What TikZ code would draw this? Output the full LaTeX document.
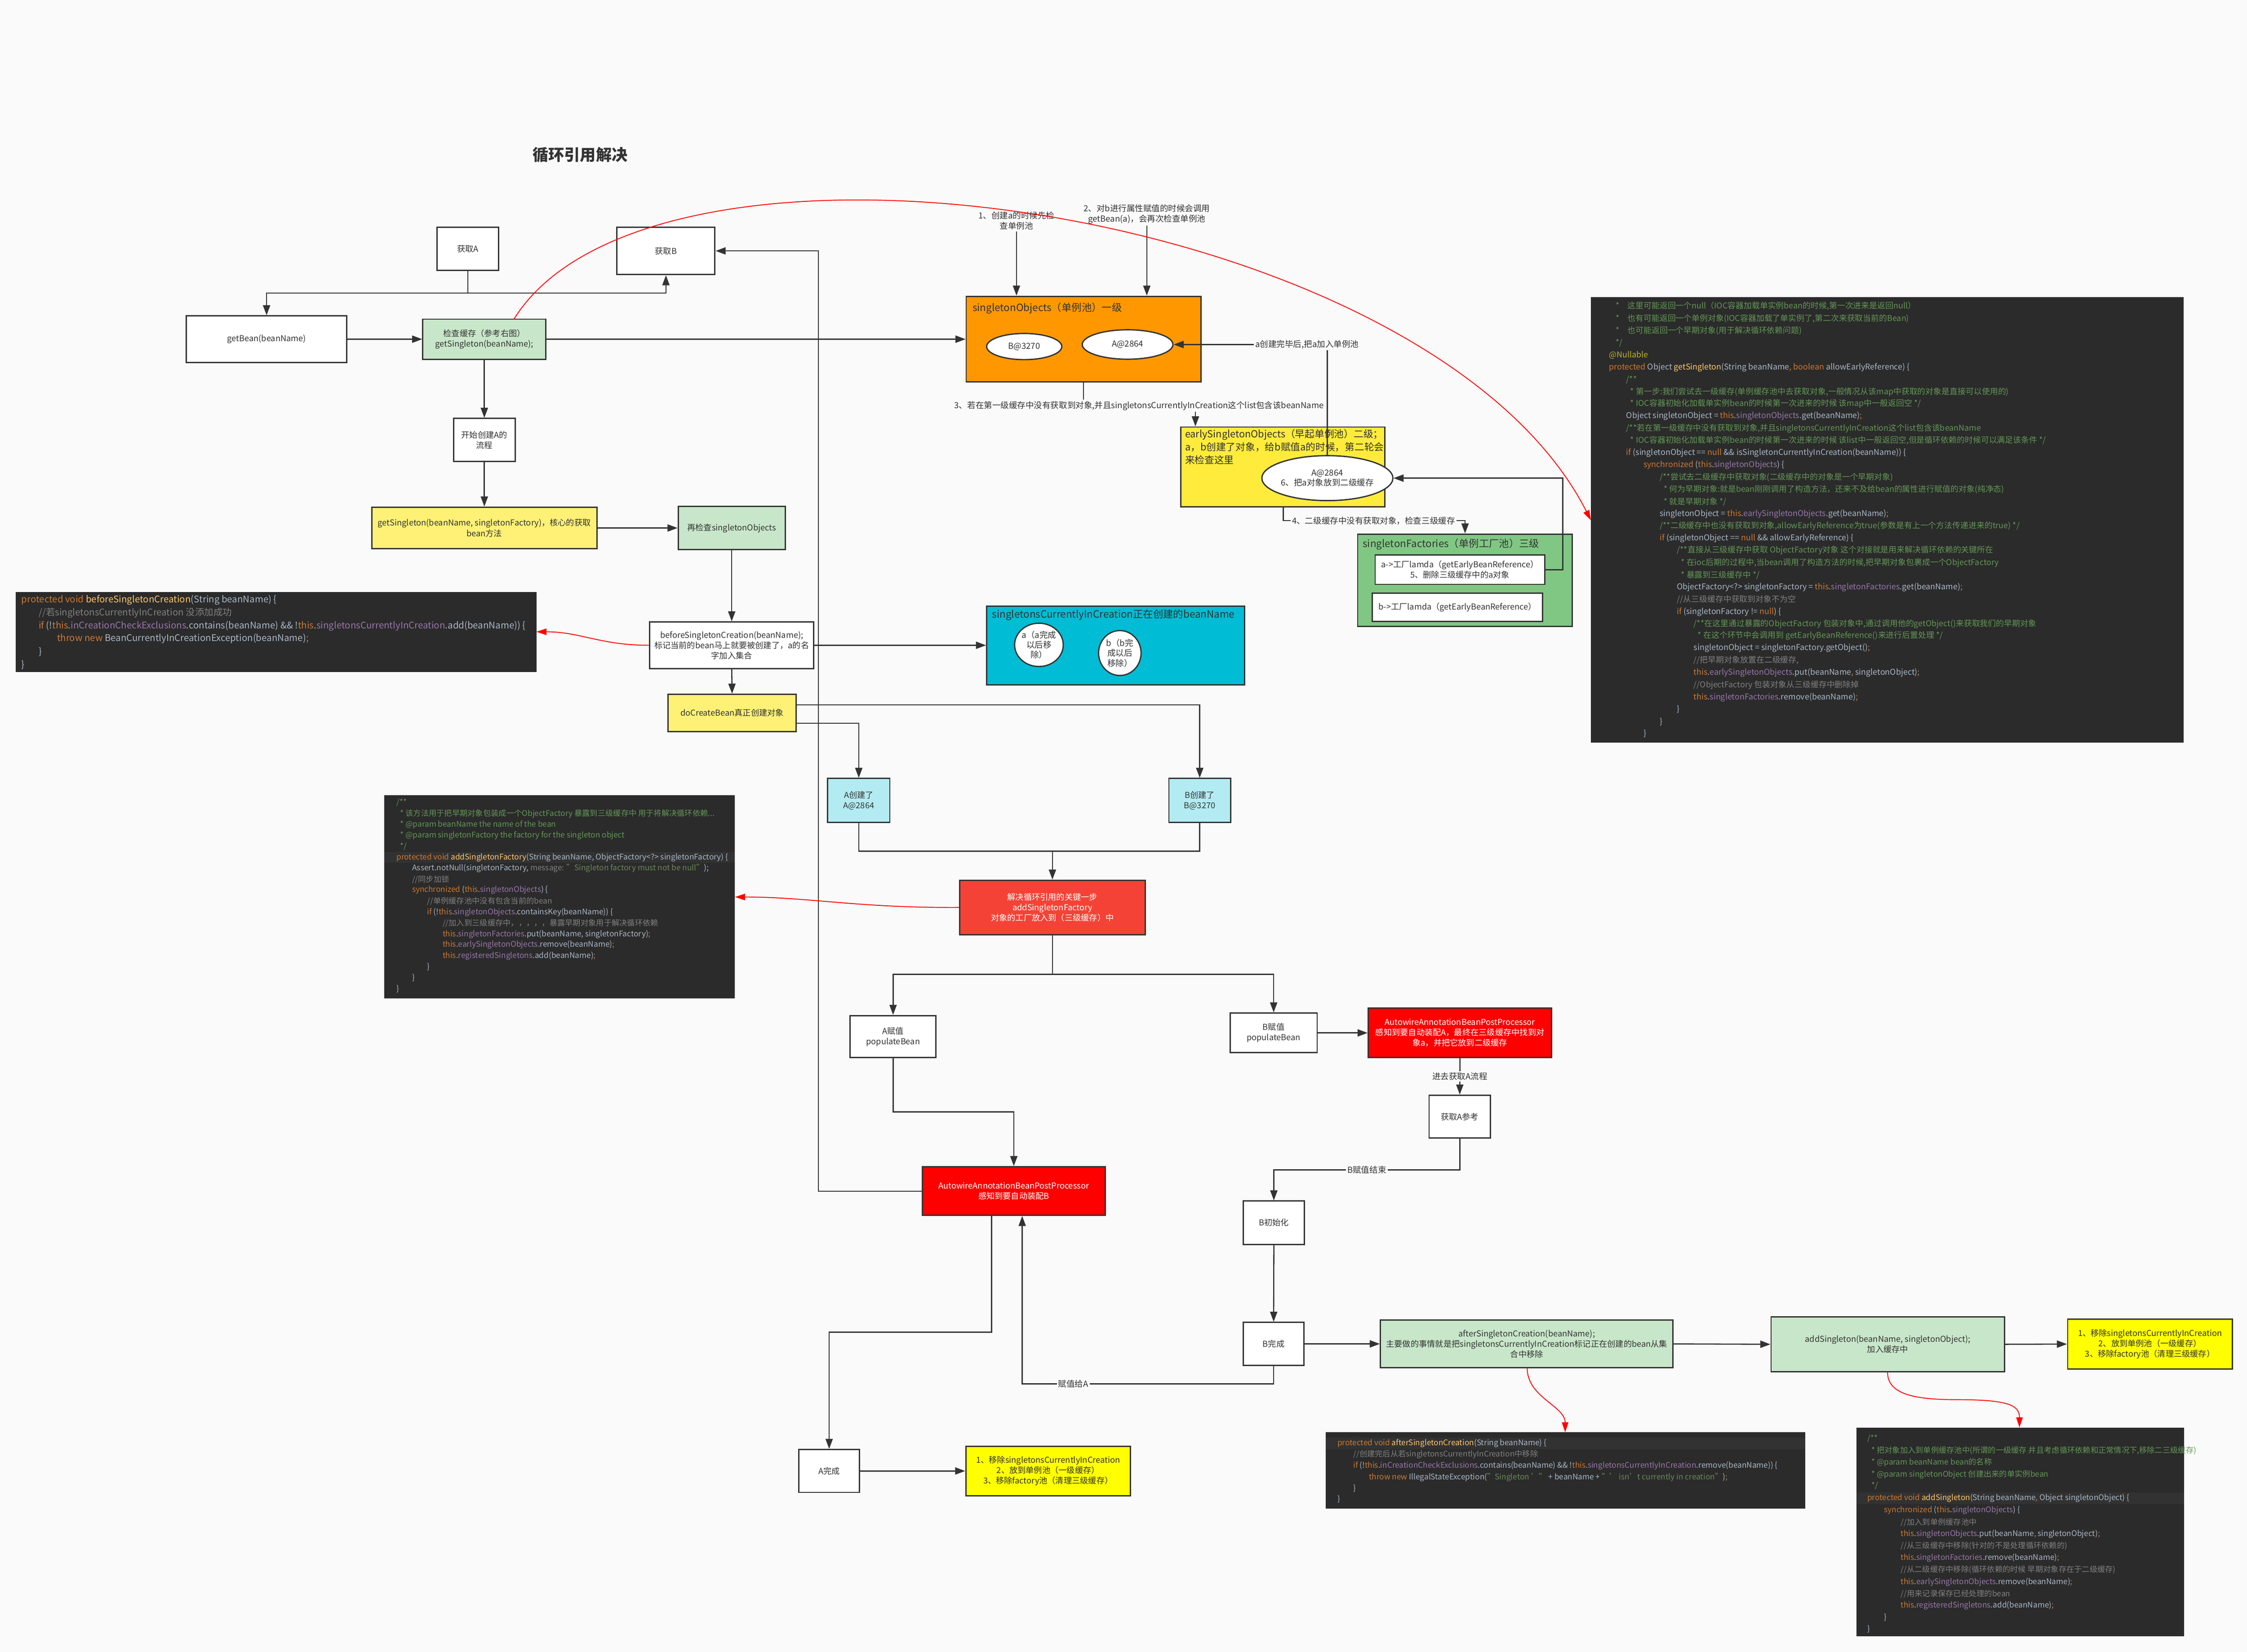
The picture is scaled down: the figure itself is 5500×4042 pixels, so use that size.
\documentclass[tikz,border=0pt]{standalone}
\usepackage{fontspec}
\setmainfont{Noto Sans CJK SC}
\usetikzlibrary{arrows.meta,shapes.geometric}
\definecolor{bg}{HTML}{FAFAFA}
\definecolor{ln}{HTML}{333333}
\definecolor{gbox}{HTML}{C8E6C9}
\definecolor{ybox}{HTML}{FFF176}
\definecolor{ybright}{HTML}{FFEB3B}
\definecolor{yy}{HTML}{FFFF00}
\definecolor{orng}{HTML}{FF9800}
\definecolor{cyn}{HTML}{00BCD4}
\definecolor{lcyn}{HTML}{B2EBF2}
\definecolor{gfac}{HTML}{81C784}
\definecolor{red1}{HTML}{F44336}
\definecolor{red2}{HTML}{FF0000}
\definecolor{codebg}{HTML}{2B2B2B}
\definecolor{codehl}{HTML}{323232}
\definecolor{codefg}{HTML}{A9B7C6}
\definecolor{ckw}{HTML}{CC7832}
\definecolor{cfd}{HTML}{9876AA}
\definecolor{ccm}{HTML}{808080}
\definecolor{cdc}{HTML}{629755}
\definecolor{cfn}{HTML}{FFC66D}
\definecolor{cst}{HTML}{6A8759}
\definecolor{cann}{HTML}{BBB529}
\newcommand\kw[1]{\textcolor{ckw}{#1}}
\newcommand\fd[1]{\textcolor{cfd}{#1}}
\newcommand\cm[1]{\textcolor{ccm}{#1}}
\newcommand\dc[1]{\textcolor{cdc}{#1}}
\newcommand\fn[1]{\textcolor{cfn}{#1}}
\newcommand\st[1]{\textcolor{cst}{#1}}
\newcommand\bx[7]{\node[#6, minimum width={(#4-#2)*0.01cm}, minimum height={(#5-#3)*0.01cm}] (#1) at ({(#2+#4)/2},{(#3+#5)/2}) {#7};}
\newcommand\el[6]{\node[ellipse, draw=ln, line width=0.9pt, fill=white, inner sep=0, align=center, font=\fontsize{5.8}{7}\selectfont, text=ln, minimum width={2*#4*0.01cm}, minimum height={2*#5*0.01cm}] (#1) at (#2,#3) {#6};}
\newcommand\cl[3]{\node[codetxt] at (#1,#2) {#3};}
\tikzset{
 box/.style={draw=ln, line width=0.9pt, align=center, inner sep=0, text=ln, font=\fontsize{5.7}{7.2}\selectfont},
 wbox/.style={box, fill=white},
 gb/.style={box, fill=gbox},
 yb/.style={box, fill=ybox},
 yyb/.style={box, fill=yy},
 cb/.style={box, fill=lcyn},
 rb1/.style={box, fill=red1, text=white},
 rb2/.style={box, fill=red2, text=white},
 arr/.style={draw=ln, line width=0.8pt, -{Triangle[length=7pt,width=5pt]}},
 lin/.style={draw=ln, line width=0.8pt},
 rarr/.style={draw=red2, line width=0.6pt, -{Triangle[length=7pt,width=4.5pt]}},
 lbl/.style={fill=bg, inner sep=1pt, text=ln, align=center, font=\fontsize{5.8}{7.2}\selectfont},
 hdr/.style={anchor=north west, inner sep=0, text=ln, align=left, font=\fontsize{7}{7.8}\selectfont},
 codebox/.style={fill=codebg, draw=none},
 codetxt/.style={anchor=west, inner sep=0, text=codefg, font=\fontsize{5.4}{6}\selectfont},
}
\begin{document}
\begin{tikzpicture}[x=0.01cm,y=-0.01cm]
\fill[bg] (0,0) rectangle (5500,4042);
\useasboundingbox (0,0) rectangle (5500,4042);

\node[text=ln, font=\fontsize{11}{13}\selectfont\bfseries] (title) at (1420,379) {循环引用解决};

% ---------- code blocks ----------
\fill[codebox] (38,1449) rectangle (1313,1644);
\begin{scope}[codetxt/.append style={font=\fontsize{6.4}{7}\selectfont}]
\cl{52}{1468}{\kw{protected void} \fn{beforeSingletonCreation}(String beanName) \{}
\cl{94}{1500}{\cm{//若singletonsCurrentlyInCreation 没添加成功}}
\cl{94}{1532}{\kw{if} (!\kw{this}.\fd{inCreationCheckExclusions}.contains(beanName) \&\& !\kw{this}.\fd{singletonsCurrentlyInCreation}.add(beanName)) \{}
\cl{139}{1563}{\kw{throw new} BeanCurrentlyInCreationException(beanName)\kw{;}}
\cl{94}{1595}{\}}
\cl{52}{1627}{\}}
\end{scope}

\fill[codebox] (941,1946) rectangle (1799,2443);
\fill[codehl] (941,2085) rectangle (1799,2111);
\begin{scope}[codetxt/.append style={font=\fontsize{5.4}{6}\selectfont}]
\cl{970}{1964}{\dc{/**}}
\cl{979}{1991}{\dc{* 该方法用于把早期对象包装成一个ObjectFactory 暴露到三级缓存中 用于将解决循环依赖...}}
\cl{979}{2018}{\dc{* @param beanName the name of the bean}}
\cl{979}{2044}{\dc{* @param singletonFactory the factory for the singleton object}}
\cl{979}{2071}{\dc{*/}}
\cl{970}{2098}{\kw{protected void} \fn{addSingletonFactory}(String beanName, ObjectFactory<?> singletonFactory) \{}
\cl{1008}{2125}{Assert.notNull(singletonFactory, \cm{message:} \st{"Singleton factory must not be null"});}
\cl{1008}{2152}{\cm{//同步加锁}}
\cl{1008}{2178}{\kw{synchronized} (\kw{this}.\fd{singletonObjects}) \{}
\cl{1045}{2205}{\cm{//单例缓存池中没有包含当前的bean}}
\cl{1045}{2232}{\kw{if} (!\kw{this}.\fd{singletonObjects}.containsKey(beanName)) \{}
\cl{1083}{2259}{\cm{//加入到三级缓存中，，，，，暴露早期对象用于解决循环依赖}}
\cl{1083}{2286}{\kw{this}.\fd{singletonFactories}.put(beanName, singletonFactory)\kw{;}}
\cl{1083}{2312}{\kw{this}.\fd{earlySingletonObjects}.remove(beanName)\kw{;}}
\cl{1083}{2339}{\kw{this}.\fd{registeredSingletons}.add(beanName)\kw{;}}
\cl{1045}{2366}{\}}
\cl{1008}{2393}{\}}
\cl{970}{2420}{\}}
\end{scope}

\fill[codebox] (3894,727) rectangle (5345,1817);
\begin{scope}[codetxt/.append style={font=\fontsize{5.6}{6}\selectfont}]
\cl{3954}{749}{\dc{*\quad 这里可能返回一个null（IOC容器加载单实例bean的时候,第一次进来是返回null）}}
\cl{3954}{779}{\dc{*\quad 也有可能返回一个单例对象(IOC容器加载了单实例了,第二次来获取当前的Bean)}}
\cl{3954}{809}{\dc{*\quad 也可能返回一个早期对象(用于解决循环依赖问题)}}
\cl{3954}{839}{\dc{*/}}
\cl{3938}{869}{\textcolor{cann}{@Nullable}}
\cl{3938}{899}{\kw{protected} Object \fn{getSingleton}(String beanName\kw{,} \kw{boolean} allowEarlyReference) \{}
\cl{3980}{929}{\dc{/**}}
\cl{3990}{959}{\dc{* 第一步:我们尝试去一级缓存(单例缓存池中去获取对象,一般情况从该map中获取的对象是直接可以使用的)}}
\cl{3990}{988}{\dc{* IOC容器初始化加载单实例bean的时候第一次进来的时候 该map中一般返回空 */}}
\cl{3980}{1018}{Object singletonObject = \kw{this}.\fd{singletonObjects}.get(beanName)\kw{;}}
\cl{3980}{1048}{\dc{/**若在第一级缓存中没有获取到对象,并且singletonsCurrentlyInCreation这个list包含该beanName}}
\cl{3990}{1078}{\dc{* IOC容器初始化加载单实例bean的时候第一次进来的时候 该list中一般返回空,但是循环依赖的时候可以满足该条件 */}}
\cl{3980}{1108}{\kw{if} (singletonObject == \kw{null} \&\& isSingletonCurrentlyInCreation(beanName)) \{}
\cl{4022}{1138}{\kw{synchronized} (\kw{this}.\fd{singletonObjects}) \{}
\cl{4062}{1168}{\dc{/**尝试去二级缓存中获取对象(二级缓存中的对象是一个早期对象)}}
\cl{4072}{1198}{\dc{* 何为早期对象:就是bean刚刚调用了构造方法，还来不及给bean的属性进行赋值的对象(纯净态)}}
\cl{4072}{1228}{\dc{* 就是早期对象 */}}
\cl{4062}{1258}{singletonObject = \kw{this}.\fd{earlySingletonObjects}.get(beanName)\kw{;}}
\cl{4062}{1287}{\dc{/**二级缓存中也没有获取到对象,allowEarlyReference为true(参数是有上一个方法传递进来的true) */}}
\cl{4062}{1317}{\kw{if} (singletonObject == \kw{null} \&\& allowEarlyReference) \{}
\cl{4104}{1347}{\dc{/**直接从三级缓存中获取 ObjectFactory对象 这个对接就是用来解决循环依赖的关键所在}}
\cl{4114}{1377}{\dc{* 在ioc后期的过程中,当bean调用了构造方法的时候,把早期对象包裹成一个ObjectFactory}}
\cl{4114}{1407}{\dc{* 暴露到三级缓存中 */}}
\cl{4104}{1437}{ObjectFactory<?> singletonFactory = \kw{this}.\fd{singletonFactories}.get(beanName)\kw{;}}
\cl{4104}{1467}{\cm{//从三级缓存中获取到对象不为空}}
\cl{4104}{1497}{\kw{if} (singletonFactory != \kw{null}) \{}
\cl{4145}{1527}{\dc{/**在这里通过暴露的ObjectFactory 包装对象中,通过调用他的getObject()来获取我们的早期对象}}
\cl{4155}{1556}{\dc{* 在这个环节中会调用到 getEarlyBeanReference()来进行后置处理 */}}
\cl{4145}{1586}{singletonObject = singletonFactory.getObject()\kw{;}}
\cl{4145}{1616}{\cm{//把早期对象放置在二级缓存,}}
\cl{4145}{1646}{\kw{this}.\fd{earlySingletonObjects}.put(beanName\kw{,} singletonObject)\kw{;}}
\cl{4145}{1676}{\cm{//ObjectFactory 包装对象从三级缓存中删除掉}}
\cl{4145}{1706}{\kw{this}.\fd{singletonFactories}.remove(beanName)\kw{;}}
\cl{4104}{1736}{\}}
\cl{4062}{1766}{\}}
\cl{4022}{1795}{\}}
\end{scope}

\fill[codebox] (3245,3505) rectangle (4419,3692);
\fill[codehl] (3245,3518) rectangle (4419,3546);
\begin{scope}[codetxt/.append style={font=\fontsize{5.4}{6}\selectfont}]
\cl{3273}{3532}{\kw{protected void} \fn{afterSingletonCreation}(String beanName) \{}
\cl{3312}{3559}{\cm{//创建完后从若singletonsCurrentlyInCreation中移除}}
\cl{3312}{3587}{\kw{if} (!\kw{this}.\fd{inCreationCheckExclusions}.contains(beanName) \&\& !\kw{this}.\fd{singletonsCurrentlyInCreation}.remove(beanName)) \{}
\cl{3350}{3615}{\kw{throw new} IllegalStateException(\st{"Singleton '"} + beanName + \st{"' isn't currently in creation"})\kw{;}}
\cl{3312}{3642}{\}}
\cl{3273}{3669}{\}}
\end{scope}

\fill[codebox] (4544,3493) rectangle (5346,4004);
\fill[codehl] (4544,3652) rectangle (5346,3680);
\begin{scope}[codetxt/.append style={font=\fontsize{5.4}{6}\selectfont}]
\cl{4570}{3520}{\dc{/**}}
\cl{4580}{3549}{\dc{* 把对象加入到单例缓存池中(所谓的一级缓存 并且考虑循环依赖和正常情况下,移除二三级缓存)}}
\cl{4580}{3579}{\dc{* @param beanName bean的名称}}
\cl{4580}{3608}{\dc{* @param singletonObject 创建出来的单实例bean}}
\cl{4580}{3636}{\dc{*/}}
\cl{4570}{3666}{\kw{protected void} \fn{addSingleton}(String beanName\kw{,} Object singletonObject) \{}
\cl{4611}{3695}{\kw{synchronized} (\kw{this}.\fd{singletonObjects}) \{}
\cl{4652}{3725}{\cm{//加入到单例缓存池中}}
\cl{4652}{3754}{\kw{this}.\fd{singletonObjects}.put(beanName\kw{,} singletonObject)\kw{;}}
\cl{4652}{3783}{\cm{//从三级缓存中移除(针对的不是处理循环依赖的)}}
\cl{4652}{3812}{\kw{this}.\fd{singletonFactories}.remove(beanName)\kw{;}}
\cl{4652}{3841}{\cm{//从二级缓存中移除(循环依赖的时候 早期对象存在于二级缓存)}}
\cl{4652}{3871}{\kw{this}.\fd{earlySingletonObjects}.remove(beanName)\kw{;}}
\cl{4652}{3900}{\cm{//用来记录保存已经处理的bean}}
\cl{4652}{3929}{\kw{this}.\fd{registeredSingletons}.add(beanName)\kw{;}}
\cl{4611}{3958}{\}}
\cl{4570}{3987}{\}}
\end{scope}

% ---------- big container boxes ----------
\bx{so}{2365}{725}{2940}{934}{box, fill=orng}{}
\node[hdr] (soT) at (2380,740) {singletonObjects（单例池）一级};
\el{ellB}{2507}{848}{92}{32}{B@3270}
\el{ellA}{2760}{843}{111}{36}{A@2864}

\bx{early}{2890}{1045}{3390}{1240}{box, fill=ybright}{}
\node[hdr, font=\fontsize{6.8}{9}\selectfont] (earlyT) at (2900,1050) {earlySingletonObjects（早起单例池）二级；\\a，b创建了对象，给b赋值a的时候，第二轮会\\来检查这里};
\el{ellE}{3249}{1170}{128}{55}{A@2864\\6、把a对象放到二级缓存}

\bx{sf}{3323}{1307}{3848}{1533}{box, fill=gfac}{}
\node[hdr] (sfT) at (3335,1318) {singletonFactories（单例工厂池）三级};
\bx{sfa}{3366}{1358}{3781}{1430}{wbox}{a->工厂lamda（getEarlyBeanReference）\\5、删除三级缓存中的a对象}
\bx{sfb}{3359}{1451}{3776}{1521}{wbox}{b->工厂lamda（getEarlyBeanReference）}

\bx{sci}{2415}{1483}{3046}{1676}{box, fill=cyn}{}
\node[hdr] (sciT) at (2428,1490) {singletonsCurrentlyInCreation正在创建的beanName};
\el{ca}{2543}{1578}{57}{53}{a（a完成\\以后移\\除）}
\el{cb}{2741}{1598}{52}{55}{b（b完\\成以后\\移除）}

% ---------- flow boxes ----------
\bx{hqA}{1070}{556}{1220}{662}{wbox}{获取A}
\bx{hqB}{1510}{556}{1750}{672}{wbox}{获取B}
\bx{getBean}{456}{773}{849}{887}{wbox}{getBean(beanName)}
\bx{check}{1035}{781}{1336}{879}{gb}{检查缓存（参考右图）\\getSingleton(beanName);}
\bx{startA}{1110}{1024}{1261}{1129}{wbox}{开始创建A的\\流程}
\bx{gs}{910}{1241}{1461}{1343}{yb}{getSingleton(beanName, singletonFactory)，核心的获取\\bean方法}
\bx{recheck}{1660}{1239}{1922}{1345}{gb}{再检查singletonObjects}
\bx{before}{1590}{1522}{1992}{1636}{wbox}{beforeSingletonCreation(beanName);\\标记当前的bean马上就要被创建了，a的名\\字加入集合}
\bx{doCreate}{1635}{1699}{1949}{1790}{yb}{doCreateBean真正创建对象}
\bx{AcA}{2026}{1905}{2178}{2012}{cb}{A创建了\\A@2864}
\bx{AcB}{2861}{1905}{3012}{2012}{cb}{B创建了\\B@3270}
\bx{red1}{2349}{2154}{2803}{2287}{rb1}{解决循环引用的关键一步\\addSingletonFactory\\对象的工厂放入到（三级缓存）中}
\bx{Afz}{2081}{2485}{2291}{2588}{wbox}{A赋值\\populateBean}
\bx{Bfz}{3011}{2479}{3224}{2576}{wbox}{B赋值\\populateBean}
\bx{awA}{3349}{2467}{3798}{2588}{rb2}{AutowireAnnotationBeanPostProcessor\\感知到要自动装配A，最终在三级缓存中找到对\\象a，并把它放到二级缓存}
\bx{hqAck}{3498}{2680}{3648}{2785}{wbox}{获取A参考}
\bx{Binit}{3043}{2939}{3193}{3045}{wbox}{B初始化}
\bx{awB}{2258}{2855}{2705}{2974}{rb2}{AutowireAnnotationBeanPostProcessor\\感知到要自动装配B}
\bx{Bdone}{3043}{3236}{3192}{3341}{wbox}{B完成}
\bx{Adone}{1955}{3547}{2104}{3652}{wbox}{A完成}
\bx{y1}{2364}{3539}{2767}{3660}{yyb}{1、移除singletonsCurrentlyInCreation\\2、放到单例池（一级缓存）\\3、移除factory池（清理三级缓存）}
\bx{after}{3379}{3230}{4095}{3347}{gb}{afterSingletonCreation(beanName);\\主要做的事情就是把singletonsCurrentlyInCreation标记正在创建的bean从集\\合中移除}
\bx{addS}{4335}{3222}{4906}{3357}{gb}{addSingleton(beanName, singletonObject);\\加入缓存中}
\bx{y2}{5061}{3228}{5464}{3350}{yyb}{1、移除singletonsCurrentlyInCreation\\2、放到单例池（一级缓存）\\3、移除factory池（清理三级缓存）}

% ---------- labels over so ----------
\node[lbl] (l1) at (2488,540) {1、创建a的时候先检\\查单例池};
\node[lbl] (l2) at (2807,524) {2、对b进行属性赋值的时候会调用\\getBean(a)，会再次检查单例池};
\draw[arr] (l1.south) -- (l1.south |- so.north);
\draw[arr] (l2.south) -- (l2.south |- so.north);

% ---------- connectors ----------
\coordinate (j1) at (1145,717);
\draw[lin] (hqA.south) -- (j1);
\draw[arr] (j1) -| (getBean.north);
\draw[arr] (j1) -| (hqB.south);
\draw[arr] (getBean.east) -- (check.west);
\draw[arr] (check.east) -- (so.west |- check.east);
\draw[arr] (check.south) -- (startA.north);
\draw[arr] (startA.south) -- (gs.north);
\draw[arr] (gs.east) -- (recheck.west);
\draw[arr] (recheck.south) -- (before.north);
\draw[arr] (before.south) -- (doCreate.north);
\draw[arr] (before.east) -- (sci.west |- before.east);

\coordinate (m1) at (2652,993);
\coordinate (m2) at (2926,993);
\draw[arr] (so.south -| m1) -- (m1) -- (m2) -- (m2 |- early.north);
\node[lbl] (l3) at (2788,993) {3、若在第一级缓存中没有获取到对象,并且singletonsCurrentlyInCreation这个list包含该beanName};
\coordinate (m3) at (3141,1274);
\coordinate (m4) at (3586,1274);
\draw[arr] (early.south -| m3) -- (m3) -- (m4) -- (m4 |- sf.north);
\node[lbl] (l4) at (3362,1274) {4、二级缓存中没有获取对象，检查三级缓存};
\coordinate (m5) at (3825,1394);
\draw[arr] (sfa.east) -- (m5) |- (ellE.east);
\draw[arr] (ellE.north) |- (ellA.east);
\node[lbl] (l5) at (3199,843) {a创建完毕后,把a加入单例池};

\coordinate (dcB) at (1949,1725);
\coordinate (dcA) at (1949,1770);
\draw[arr] (dcB) -| (AcB.north);
\draw[arr] (dcA) -| (AcA.north);
\coordinate (j2) at (2576,2083);
\draw[lin] (AcA.south) |- (j2);
\draw[lin] (AcB.south) |- (j2);
\draw[arr] (j2) -- (red1.north);
\coordinate (j3) at (2576,2384);
\draw[lin] (red1.south) -- (j3);
\draw[arr] (j3) -| (Afz.north);
\draw[arr] (j3) -| (Bfz.north);
\draw[arr] (Bfz.east) -- (awA.west);
\draw[arr] (awA.south) -- node[lbl]{进去获取A流程} (hqAck.north);
\coordinate (k1) at (3573,2863);
\draw[arr] (hqAck.south) -- (k1) -- node[lbl]{B赋值结束} (k1 -| Binit.north) -- (Binit.north);
\coordinate (k0) at (2186,2721);
\draw[arr] (Afz.south) -- (k0) -| (awB.north);
\coordinate (k2) at (2003,2915);
\draw[arr] (awB.west |- k2) -- (k2) |- (hqB.east);
\draw[arr] (Binit.south) -- (Bdone.north);
\coordinate (k3) at (2502,3386);
\draw[arr] (Bdone.south) |- (k3) -- (k3 |- awB.south);
\node[lbl] (l6) at (2627,3386) {赋值给A};
\coordinate (k4) at (2427,3260);
\draw[arr] (awB.south -| k4) -- (k4) -| (Adone.north);
\draw[arr] (Adone.east) -- (y1.west);
\draw[arr] (Bdone.east) -- (after.west);
\draw[arr] (after.east) -- (addS.west);
\draw[arr] (addS.east) -- (y2.west);

% ---------- red curves ----------
\coordinate (r0) at (1258,781);
\coordinate (r1) at (3894,1273);
\draw[rarr] (r0) .. controls (1600,230) and (3500,500) .. (r1);
\coordinate (r2) at (1313,1546);
\draw[rarr] (before.west) .. controls (1470,1579) and (1420,1546) .. (r2);
\coordinate (r3) at (1799,2195);
\draw[rarr] (red1.west) .. controls (2100,2222) and (1980,2195) .. (r3);
\coordinate (r4) at (3738,3347);
\coordinate (r5) at (3831,3505);
\draw[rarr] (r4) .. controls (3738,3420) and (3831,3440) .. (r5);
\coordinate (r6) at (4620,3357);
\coordinate (r7) at (4790,3425);
\coordinate (r8) at (4943,3493);
\draw[red2, line width=0.6pt] (r6) .. controls (4620,3410) and (4680,3425) .. (r7);
\draw[rarr] (r7) .. controls (4920,3425) and (4943,3440) .. (r8);
\end{tikzpicture}
\end{document}
